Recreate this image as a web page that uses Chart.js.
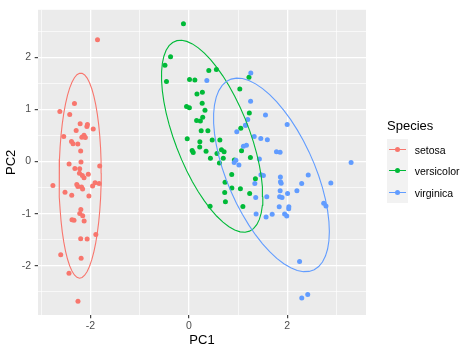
<!DOCTYPE html>
<html><head><meta charset="utf-8">
<script src="https://cdn.jsdelivr.net/npm/chart.js@4/dist/chart.umd.min.js"></script>
<style>
html,body{margin:0;padding:0;background:#fff;}
#wrap{position:relative;width:474px;height:355px;font-family:'Liberation Sans',Arial,sans-serif;overflow:hidden;}
#c{position:absolute;left:0;top:0;}
.lgt{position:absolute;white-space:nowrap;color:#000;}
.key{position:absolute;background:#F2F2F2;}
.kline{position:absolute;}
.kdot{position:absolute;border-radius:50%;}
</style></head><body>
<div id="wrap"><canvas id="c" width="474" height="355"></canvas><div id="legend"></div></div>
<script>
// ---------- data ----------
const speciesNames = ['setosa', 'versicolor', 'virginica'];
const setosaPC1 = [-2.257,-2.074,-2.356,-2.292,-2.382,-2.069,-2.436,-2.225,-2.327,-2.177,-2.159,-2.318,-2.211,-2.624,-2.191,-2.255,-2.200,-2.183,-1.892,-2.336,-1.908,-2.197,-2.765,-1.813,-2.220,-1.945,-2.046,-2.161,-2.132,-2.258,-2.133,-1.825,-2.606,-2.438,-2.105,-2.200,-2.033,-2.519,-2.423,-2.166,-2.279,-1.858,-2.545,-1.958,-2.130,-2.063,-2.377,-2.387,-2.219,-2.194];
const setosaPC2 = [-0.478,0.672,0.341,0.595,-0.645,-1.484,-0.047,-0.222,1.112,0.467,-1.040,-0.133,0.726,0.958,-1.854,-2.677,-1.479,-0.487,-1.400,-1.124,-0.407,-0.921,-0.457,-0.085,-0.137,0.624,-0.241,-0.525,-0.312,0.337,0.503,-0.422,-1.788,-2.144,0.460,0.205,-0.659,-0.590,0.901,-0.267,-0.440,2.337,0.479,-0.471,-1.138,0.709,-1.114,0.385,-0.994,-0.009];
const versicolorPC1 = [1.099,0.729,1.237,0.406,1.072,0.387,0.744,-0.486,0.925,0.011,-0.110,0.439,0.560,0.717,-0.033,0.875,0.350,0.158,1.223,0.165,0.736,0.475,1.230,0.631,0.700,0.872,1.252,1.354,0.663,-0.047,0.122,0.014,0.235,1.056,0.221,0.432,1.049,1.036,0.067,0.275,0.271,0.622,0.328,-0.372,0.282,0.089,0.224,0.572,-0.455,0.251];
const versicolorPC2 = [-0.860,-0.593,-0.614,1.749,0.208,0.591,-0.770,1.846,0.032,1.030,2.645,0.063,1.765,0.186,0.438,-0.508,0.196,0.790,1.617,1.298,-0.395,0.416,0.930,0.415,0.063,-0.250,0.076,-0.331,0.225,1.057,1.564,1.573,0.776,0.637,0.281,-0.855,-0.521,1.392,0.212,1.330,1.119,-0.027,0.986,2.012,0.851,0.175,0.379,0.153,1.534,0.593];
const virginicaPC1 = [1.838,1.154,2.198,1.435,1.862,2.743,0.366,2.295,2.000,2.252,1.360,1.597,1.878,1.256,1.463,1.585,1.466,2.418,3.300,1.260,2.031,0.975,2.888,1.329,1.695,1.948,1.171,1.018,1.782,1.857,2.428,2.297,1.856,1.110,1.198,2.789,1.571,1.342,0.922,1.846,2.008,1.895,1.154,2.034,1.991,1.864,1.559,1.516,1.368,0.957];
const virginicaPC2 = [-0.868,0.697,-0.560,0.047,-0.294,-0.798,1.556,-0.419,0.709,-1.915,-0.690,0.420,-0.418,1.159,0.441,-0.674,-0.255,-2.548,-0.018,1.701,-0.907,0.570,-0.412,0.480,-1.011,-1.004,0.315,-0.064,0.187,-0.560,-0.258,-2.618,0.178,0.292,0.809,-0.854,-1.065,-0.421,-0.017,-0.674,-0.612,-0.687,0.697,-0.865,-1.046,-0.386,0.894,-0.268,-1.008,0.024];
const xTickValues = [-3, -2, -1, 0, 1, 2, 3];
const xTickLabels = ['', '-2', '', '0', '', '2', ''];
const yTickValues = [-2.5, -2, -1.5, -1, -0.5, 0, 0.5, 1, 1.5, 2, 2.5];
const yTickLabels = ['', '-2', '', '-1', '', '0', '', '1', '', '2', ''];
const xTitle = 'PC1', yTitle = 'PC2', legendTitle = 'Species';

// ---------- styles ----------
const speciesColors = ['#F8766D', '#00BA38', '#619CFF'];
const FONT = "'Liberation Sans', Arial, sans-serif";

const pc1 = [setosaPC1, versicolorPC1, virginicaPC1];
const pc2 = [setosaPC2, versicolorPC2, virginicaPC2];
const groups = pc1.map((xs, g) => xs.map((x, i) => ({x: x, y: pc2[g][i]})));

// ---------- stat_ellipse (type "t", level 0.95) ----------
function covTrob(pts) {
  const nu = 5, p = 2, maxit = 25, tol = 0.01, n = pts.length;
  let loc = [pts.reduce((s, q) => s + q.x, 0) / n, pts.reduce((s, q) => s + q.y, 0) / n];
  let w = new Array(n).fill(1);
  let X = null;
  for (let it = 0; it < maxit; it++) {
    const w0 = w.slice();
    X = pts.map(q => [q.x - loc[0], q.y - loc[1]]);
    const sw = w.reduce((a, b) => a + b, 0);
    let a = 0, b = 0, c = 0;
    for (let i = 0; i < n; i++) {
      a += w[i] / sw * X[i][0] * X[i][0];
      b += w[i] / sw * X[i][0] * X[i][1];
      c += w[i] / sw * X[i][1] * X[i][1];
    }
    const det = a * c - b * b;
    w = X.map(v => {
      const Q = (c * v[0] * v[0] - 2 * b * v[0] * v[1] + a * v[1] * v[1]) / det;
      return (nu + p) / (nu + Q);
    });
    const ws = w.reduce((s, v) => s + v, 0);
    loc = [pts.reduce((s, q, i) => s + w[i] * q.x, 0) / ws, pts.reduce((s, q, i) => s + w[i] * q.y, 0) / ws];
    if (w.every((v, i) => Math.abs(v - w0[i]) < tol)) break;
  }
  let s11 = 0, s12 = 0, s22 = 0;
  for (let i = 0; i < n; i++) {
    s11 += w[i] * X[i][0] * X[i][0];
    s12 += w[i] * X[i][0] * X[i][1];
    s22 += w[i] * X[i][1] * X[i][1];
  }
  return {center: loc, cov: [s11 / n, s12 / n, s22 / n]};
}
function ellipsePath(pts) {
  const {center, cov} = covTrob(pts);
  const d = pts.length - 1, level = 0.95;
  const qf = (d / 2) * (Math.pow(1 - level, -2 / d) - 1);
  const radius = Math.sqrt(2 * qf);
  const r11 = Math.sqrt(cov[0]), r12 = cov[1] / r11, r22 = Math.sqrt(cov[2] - r12 * r12);
  const seg = 51, out = [];
  for (let k = 0; k <= seg; k++) {
    const t = k * 2 * Math.PI / seg, co = Math.cos(t), si = Math.sin(t);
    out.push({x: center[0] + radius * co * r11, y: center[1] + radius * (co * r12 + si * r22)});
  }
  return out;
}

// ---------- limits (5% expansion like ggplot) ----------
const allX = pc1.flat(), allY = pc2.flat();
const xr = [Math.min(...allX), Math.max(...allX)], yr = [Math.min(...allY), Math.max(...allY)];
const xMin = xr[0] - 0.05 * (xr[1] - xr[0]), xMax = xr[1] + 0.05 * (xr[1] - xr[0]);
const yMin = yr[0] - 0.05 * (yr[1] - yr[0]), yMax = yr[1] + 0.05 * (yr[1] - yr[0]);

const datasets = [];
speciesNames.forEach((nm, g) => {
  datasets.push({label: nm + ' ellipse', data: ellipsePath(groups[g]), showLine: true, pointRadius: 0,
    borderColor: speciesColors[g], borderWidth: 1.1, fill: false, tension: 0, order: 2 - g});
});
speciesNames.forEach((nm, g) => {
  datasets.push({label: nm, data: groups[g], showLine: false, pointRadius: 2.5, pointBorderWidth: 0,
    backgroundColor: speciesColors[g], borderColor: speciesColors[g], pointHoverRadius: 2.5, order: 5 - g});
});

const panelBg = {
  id: 'panelBg',
  beforeDraw(chart) {
    const {ctx, chartArea: a} = chart;
    ctx.save();
    ctx.fillStyle = '#FFFFFF';
    ctx.fillRect(0, 0, chart.width, chart.height);
    ctx.fillStyle = '#EBEBEB';
    ctx.fillRect(a.left, a.top, a.right - a.left, a.bottom - a.top);
    ctx.restore();
  }
};

function isMajorX(v) { const i = xTickValues.indexOf(v); return i >= 0 && xTickLabels[i] !== ''; }
function isMajorY(v) { const i = yTickValues.indexOf(v); return i >= 0 && yTickLabels[i] !== ''; }

new Chart(document.getElementById('c'), {
  type: 'scatter',
  data: {datasets},
  plugins: [panelBg],
  options: {
    responsive: false, animation: false, devicePixelRatio: 1,
    layout: {padding: {left: 0, top: 7, right: 108, bottom: 0}},
    plugins: {legend: {display: false}, tooltip: {enabled: false}},
    events: [],
    scales: {
      x: {
        type: 'linear', position: 'bottom', min: xMin, max: xMax,
        afterBuildTicks: s => { s.ticks = xTickValues.map(v => ({value: v})); },
        afterFit: s => { s.height = 40; },
        ticks: {callback: v => xTickLabels[xTickValues.indexOf(v)], color: '#4D4D4D',
          font: {size: 10.5, family: FONT}, padding: 2, maxRotation: 0, autoSkip: false},
        grid: {color: '#FFFFFF', lineWidth: c => isMajorX(c.tick && c.tick.value) ? 1.3 : 0.65,
          drawTicks: true, tickLength: 3.3, tickWidth: 1.1,
          tickColor: c => isMajorX(c.tick && c.tick.value) ? '#333333' : 'rgba(0,0,0,0)'},
        border: {display: false},
        title: {display: true, text: xTitle, color: '#000000', font: {size: 13, family: FONT},
          padding: {top: 0, bottom: 6.5}}
      },
      y: {
        type: 'linear', position: 'left', min: yMin, max: yMax,
        afterBuildTicks: s => { s.ticks = yTickValues.map(v => ({value: v})); },
        afterFit: s => { s.width = 38; },
        ticks: {callback: v => yTickLabels[yTickValues.indexOf(v)], color: '#4D4D4D',
          font: {size: 10.5, family: FONT}, padding: 3.5, autoSkip: false},
        grid: {color: '#FFFFFF', lineWidth: c => isMajorY(c.tick && c.tick.value) ? 1.3 : 0.65,
          drawTicks: true, tickLength: 3.3, tickWidth: 1.1,
          tickColor: c => isMajorY(c.tick && c.tick.value) ? '#333333' : 'rgba(0,0,0,0)'},
        border: {display: false},
        title: {display: true, text: yTitle, color: '#000000', font: {size: 13, family: FONT},
          padding: {top: 4, bottom: 0}}
      }
    }
  }
});

// ---------- legend (HTML) ----------
const lg = document.getElementById('legend');
const LX = 387, KW = 20.7, KH = 21.4, KTOP = 138.6;
const t = document.createElement('div');
t.className = 'lgt';
t.style.cssText = `left:${LX}px;top:118.2px;font-size:13px;line-height:16px;`;
t.textContent = legendTitle;
lg.appendChild(t);
speciesNames.forEach((nm, g) => {
  const top = KTOP + g * KH;
  const k = document.createElement('div');
  k.className = 'key';
  k.style.cssText = `left:${LX}px;top:${top}px;width:${KW}px;height:${KH}px;`;
  const ln = document.createElement('div');
  ln.className = 'kline';
  ln.style.cssText = `left:${KW * 0.1}px;top:${KH / 2 - 0.55}px;width:${KW * 0.8}px;height:1.1px;background:${speciesColors[g]};`;
  const dot = document.createElement('div');
  dot.className = 'kdot';
  dot.style.cssText = `left:${KW / 2 - 2.5}px;top:${KH / 2 - 2.5}px;width:5px;height:5px;background:${speciesColors[g]};`;
  k.appendChild(ln); k.appendChild(dot);
  lg.appendChild(k);
  const lb = document.createElement('div');
  lb.className = 'lgt';
  lb.style.cssText = `left:414.7px;top:${top + 5.3}px;font-size:10.5px;line-height:13px;`;
  lb.textContent = nm;
  lg.appendChild(lb);
});
</script>
</body></html>
